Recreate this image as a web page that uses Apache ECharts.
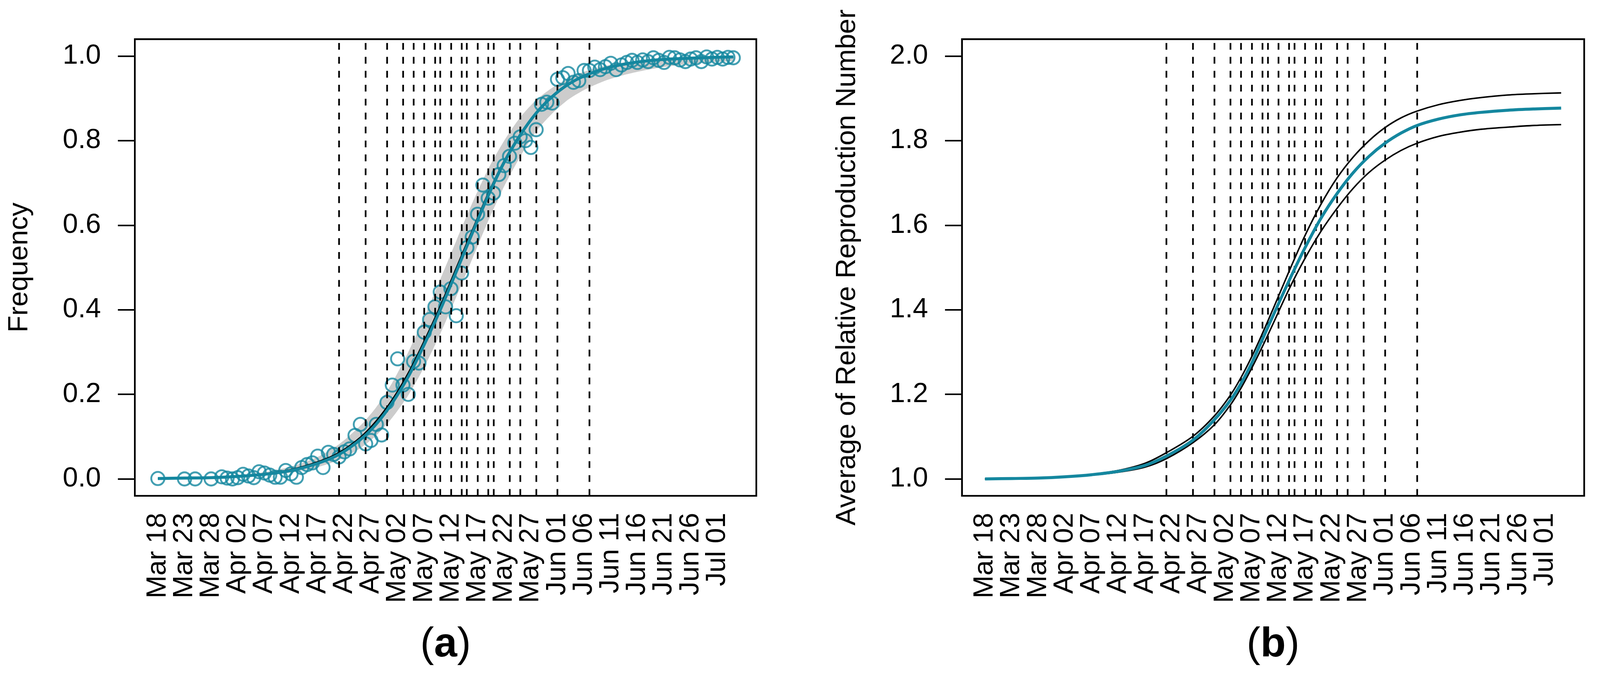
<!DOCTYPE html>
<html><head><meta charset="utf-8">
<script src="https://cdn.jsdelivr.net/npm/echarts@6/dist/echarts.min.js"></script>
<style>html,body{margin:0;padding:0;background:#fff;overflow:hidden}#c{position:absolute;left:0;top:0}</style>
</head><body><div id="c"></div>
<script>
// ---- data (day 0 = Mar 18) ----
const tickDays = [0,5,10,15,20,25,30,35,40,45,50,55,60,65,70,75,80,85,90,95,100,105];
const tickLabels = ['Mar 18','Mar 23','Mar 28','Apr 02','Apr 07','Apr 12','Apr 17','Apr 22','Apr 27','May 02','May 07','May 12','May 17','May 22','May 27','Jun 01','Jun 06','Jun 11','Jun 16','Jun 21','Jun 26','Jul 01'];
const dashDays = [34,39,43,46,48,50,52,53,55,57,58,60,62,63,66,68,71,75,81];
const freqTicks = [0,0.2,0.4,0.6,0.8,1.0];
const rTicks = [1.0,1.2,1.4,1.6,1.8,2.0];

const obsDays = [0,5,7,10,12,13,14,15,16,17,18,19,20,21,22,23,24,25,26,27,28,29,30,31,32,33,34,35,36,37,38,39,40,41,42,43,44,45,46,47,48,49,50,51,52,53,54,55,56,57,58,59,60,61,62,63,64,65,66,67,68,69,70,71,72,73,74,75,76,77,78,79,80,81,82,83,84,85,86,87,88,89,90,91,92,93,94,95,96,97,98,99,100,101,102,103,104,105,106,107,108];
const obsFreq = [0.001,0.000,0.000,0.000,0.005,0.002,0.000,0.003,0.011,0.007,0.003,0.017,0.014,0.009,0.004,0.004,0.020,0.012,0.004,0.027,0.034,0.038,0.054,0.027,0.063,0.058,0.052,0.064,0.071,0.103,0.129,0.083,0.091,0.129,0.104,0.181,0.222,0.284,0.222,0.200,0.278,0.274,0.347,0.377,0.407,0.442,0.407,0.450,0.386,0.487,0.547,0.572,0.626,0.695,0.664,0.676,0.720,0.741,0.763,0.794,0.809,0.800,0.784,0.826,0.886,0.891,0.889,0.945,0.949,0.959,0.938,0.942,0.966,0.966,0.974,0.968,0.975,0.983,0.968,0.979,0.985,0.990,0.985,0.991,0.987,0.996,0.990,0.985,0.997,0.996,0.991,0.987,0.993,0.996,0.987,0.998,0.993,0.997,0.993,0.997,0.996];

const fitDays  = [0,5,10,15,20,25,30,34,38,41,44,47,50,53,56,59,62,65,68,71,74,77,80,84,88,92,96,100,104,108];
const fitBlack = [0.001,0.002,0.004,0.007,0.012,0.022,0.040,0.062,0.098,0.137,0.187,0.250,0.326,0.408,0.498,0.587,0.675,0.752,0.815,0.866,0.904,0.932,0.952,0.970,0.981,0.988,0.993,0.995,0.997,0.998];
const fitTeal  = [0.001,0.002,0.003,0.006,0.011,0.020,0.037,0.058,0.093,0.130,0.180,0.242,0.318,0.400,0.490,0.581,0.670,0.749,0.813,0.865,0.904,0.933,0.953,0.971,0.982,0.989,0.993,0.995,0.997,0.998];
const bandHigh = [0.002,0.003,0.005,0.009,0.016,0.029,0.052,0.082,0.126,0.170,0.228,0.300,0.383,0.472,0.563,0.652,0.733,0.800,0.855,0.896,0.925,0.947,0.963,0.977,0.986,0.991,0.995,0.997,0.998,0.999];
const bandLow  = [0.000,0.001,0.002,0.004,0.008,0.015,0.028,0.045,0.073,0.103,0.145,0.198,0.265,0.343,0.430,0.520,0.610,0.692,0.762,0.822,0.864,0.897,0.920,0.942,0.957,0.968,0.976,0.982,0.986,0.989];

const rDays  = [0,5,10,15,20,25,30,34,39,43,46,48,50,52,54,57,60,63,66,69,72,75,78,81,85,89,93,98,103,108];
const rMean  = [1.000,1.001,1.002,1.005,1.010,1.018,1.032,1.054,1.092,1.140,1.186,1.226,1.274,1.330,1.386,1.469,1.547,1.617,1.675,1.724,1.763,1.794,1.818,1.836,1.851,1.861,1.867,1.872,1.875,1.877];
const rUpper = [1.000,1.001,1.002,1.005,1.011,1.020,1.037,1.062,1.101,1.149,1.198,1.240,1.289,1.344,1.402,1.491,1.576,1.650,1.712,1.761,1.800,1.831,1.854,1.870,1.885,1.895,1.902,1.908,1.911,1.913];
const rLower = [1.000,1.001,1.002,1.004,1.009,1.016,1.028,1.048,1.086,1.128,1.175,1.215,1.262,1.313,1.367,1.449,1.522,1.586,1.640,1.687,1.725,1.754,1.777,1.794,1.810,1.820,1.827,1.832,1.836,1.838];

// ---- uniform scaling to the actual viewport width (design size 4248 x 1776) ----
const W = window.innerWidth || 4248;
const S = W / 4248;
const H = Math.max(window.innerHeight || 0, Math.round(1776 * S));
const px = v => v * S, py = v => v * S, ps = v => v * S;
const el = document.getElementById('c');
el.style.width = W + 'px'; el.style.height = H + 'px';

const TEAL = '#14879f';
const FONT = "'Liberation Sans', Arial, Helvetica, sans-serif";
const FS = ps(73);

const zip = (xs, ys) => xs.map((x, i) => [x, ys[i]]);
const evenTicks = tickDays.filter((d, i) => i % 2 === 0);
const oddTicks = tickDays.filter((d, i) => i % 2 === 1);

// two label axes per panel (alternating labels) so no label is auto-hidden
function xAxisFor(gi, values, main) {
  return {
    type: 'value', gridIndex: gi, min: -4.32, max: 112.32, position: 'bottom', offset: 0,
    axisLine: { show: main, onZero: false, lineStyle: { color: '#000', width: ps(4) } },
    axisTick: { show: false },
    splitLine: { show: false },
    axisLabel: {
      customValues: values, rotate: 90, margin: py(45), showMinLabel: true, showMaxLabel: true, hideOverlap: false,
      fontSize: FS, fontFamily: FONT, color: '#000',
      formatter: v => tickLabels[tickDays.indexOf(Math.round(v))]
    }
  };
}
function yAxisFor(gi, min, max, ticks) {
  return {
    type: 'value', gridIndex: gi, min: min, max: max,
    axisLine: { show: true, onZero: false, lineStyle: { color: '#000', width: ps(4) } },
    axisTick: { show: true, customValues: ticks, length: px(45), lineStyle: { color: '#000', width: ps(4) } },
    splitLine: { show: false },
    axisLabel: {
      customValues: ticks, margin: px(90), showMinLabel: true, showMaxLabel: true,
      fontSize: FS, fontFamily: FONT, color: '#000',
      formatter: v => Number(v).toFixed(1)
    }
  };
}
function dashMark() {
  return {
    silent: true, symbol: ['none', 'none'], animation: false,
    label: { show: false },
    lineStyle: { color: '#000', width: ps(4.5), type: [ps(18), ps(19)], opacity: 1 },
    emphasis: { disabled: true },
    data: dashDays.map(d => ({ xAxis: d }))
  };
}
function bandItem(params, api) {
  const pts = [];
  for (let i = 0; i < fitDays.length; i++) pts.push(api.coord([fitDays[i], bandHigh[i]]));
  for (let i = fitDays.length - 1; i >= 0; i--) pts.push(api.coord([fitDays[i], bandLow[i]]));
  return { type: 'polygon', shape: { points: pts, smooth: 0.25 }, style: { fill: '#cccccc', stroke: null } };
}

const chart = echarts.init(el, null, { renderer: 'canvas', width: W, height: H });
chart.setOption({
  animation: false,
  backgroundColor: '#fff',
  grid: [
    { left: px(358), top: py(104), width: px(1650), height: py(1212), show: true, borderColor: '#000', borderWidth: ps(4.5), backgroundColor: 'transparent' },
    { left: px(2554), top: py(104), width: px(1652), height: py(1212), show: true, borderColor: '#000', borderWidth: ps(4.5), backgroundColor: 'transparent' }
  ],
  xAxis: [xAxisFor(0, evenTicks, true), xAxisFor(0, oddTicks, false), xAxisFor(1, evenTicks, true), xAxisFor(1, oddTicks, false)],
  yAxis: [yAxisFor(0, -0.04, 1.04, freqTicks), yAxisFor(1, 0.96, 2.04, rTicks)],
  series: [
    // panel (a): confidence band
    { type: 'custom', xAxisIndex: 0, yAxisIndex: 0, data: [[fitDays[0], bandLow[0]]], renderItem: bandItem, z: 1, silent: true, clip: true },
    // dashed verticals (a)
    { type: 'line', xAxisIndex: 0, yAxisIndex: 0, data: [], z: 2, markLine: dashMark() },
    // observations
    { type: 'scatter', xAxisIndex: 0, yAxisIndex: 0, data: zip(obsDays, obsFreq), symbol: 'circle', symbolSize: ps(35),
      itemStyle: { color: 'rgba(0,0,0,0)', borderColor: TEAL, borderWidth: ps(5) }, z: 3, silent: true },
    // fitted curves
    { type: 'line', xAxisIndex: 0, yAxisIndex: 0, data: zip(fitDays, fitBlack), smooth: 0.3, symbol: 'none',
      lineStyle: { color: '#000', width: ps(4.5) }, z: 4, silent: true },
    { type: 'line', xAxisIndex: 0, yAxisIndex: 0, data: zip(fitDays, fitTeal), smooth: 0.3, symbol: 'none',
      lineStyle: { color: TEAL, width: ps(8) }, z: 5, silent: true },

    // panel (b)
    { type: 'line', xAxisIndex: 2, yAxisIndex: 1, data: [], z: 2, markLine: dashMark() },
    { type: 'line', xAxisIndex: 2, yAxisIndex: 1, data: zip(rDays, rUpper), smooth: 0.35, symbol: 'none',
      lineStyle: { color: '#000', width: ps(4) }, z: 4, silent: true },
    { type: 'line', xAxisIndex: 2, yAxisIndex: 1, data: zip(rDays, rLower), smooth: 0.35, symbol: 'none',
      lineStyle: { color: '#000', width: ps(4) }, z: 4, silent: true },
    { type: 'line', xAxisIndex: 2, yAxisIndex: 1, data: zip(rDays, rMean), smooth: 0.35, symbol: 'none',
      lineStyle: { color: TEAL, width: ps(8) }, z: 5, silent: true }
  ],
  graphic: [
    { type: 'text', x: px(52), y: py(710), rotation: Math.PI / 2,
      style: { text: 'Frequency', font: FS + 'px ' + FONT, fill: '#000', textAlign: 'center', textVerticalAlign: 'middle', align: 'center', verticalAlign: 'middle' } },
    { type: 'text', x: px(2250), y: py(710), rotation: Math.PI / 2,
      style: { text: 'Average of Relative Reproduction Number', font: FS + 'px ' + FONT, fill: '#000', textAlign: 'center', textVerticalAlign: 'middle', align: 'center', verticalAlign: 'middle' } },
    { type: 'text', x: px(1183), y: py(1712),
      style: { text: '{n|(}{b|a}{n|)}', fill: '#000', align: 'center', verticalAlign: 'middle', textAlign: 'center', textVerticalAlign: 'middle',
        rich: { n: { fontSize: ps(110), fontFamily: FONT, fill: '#000' }, b: { fontSize: ps(110), fontFamily: FONT, fontWeight: 'bold', fill: '#000' } } } },
    { type: 'text', x: px(3380), y: py(1712),
      style: { text: '{n|(}{b|b}{n|)}', fill: '#000', align: 'center', verticalAlign: 'middle', textAlign: 'center', textVerticalAlign: 'middle',
        rich: { n: { fontSize: ps(110), fontFamily: FONT, fill: '#000' }, b: { fontSize: ps(110), fontFamily: FONT, fontWeight: 'bold', fill: '#000' } } } }
  ]
});
</script>
</body></html>
